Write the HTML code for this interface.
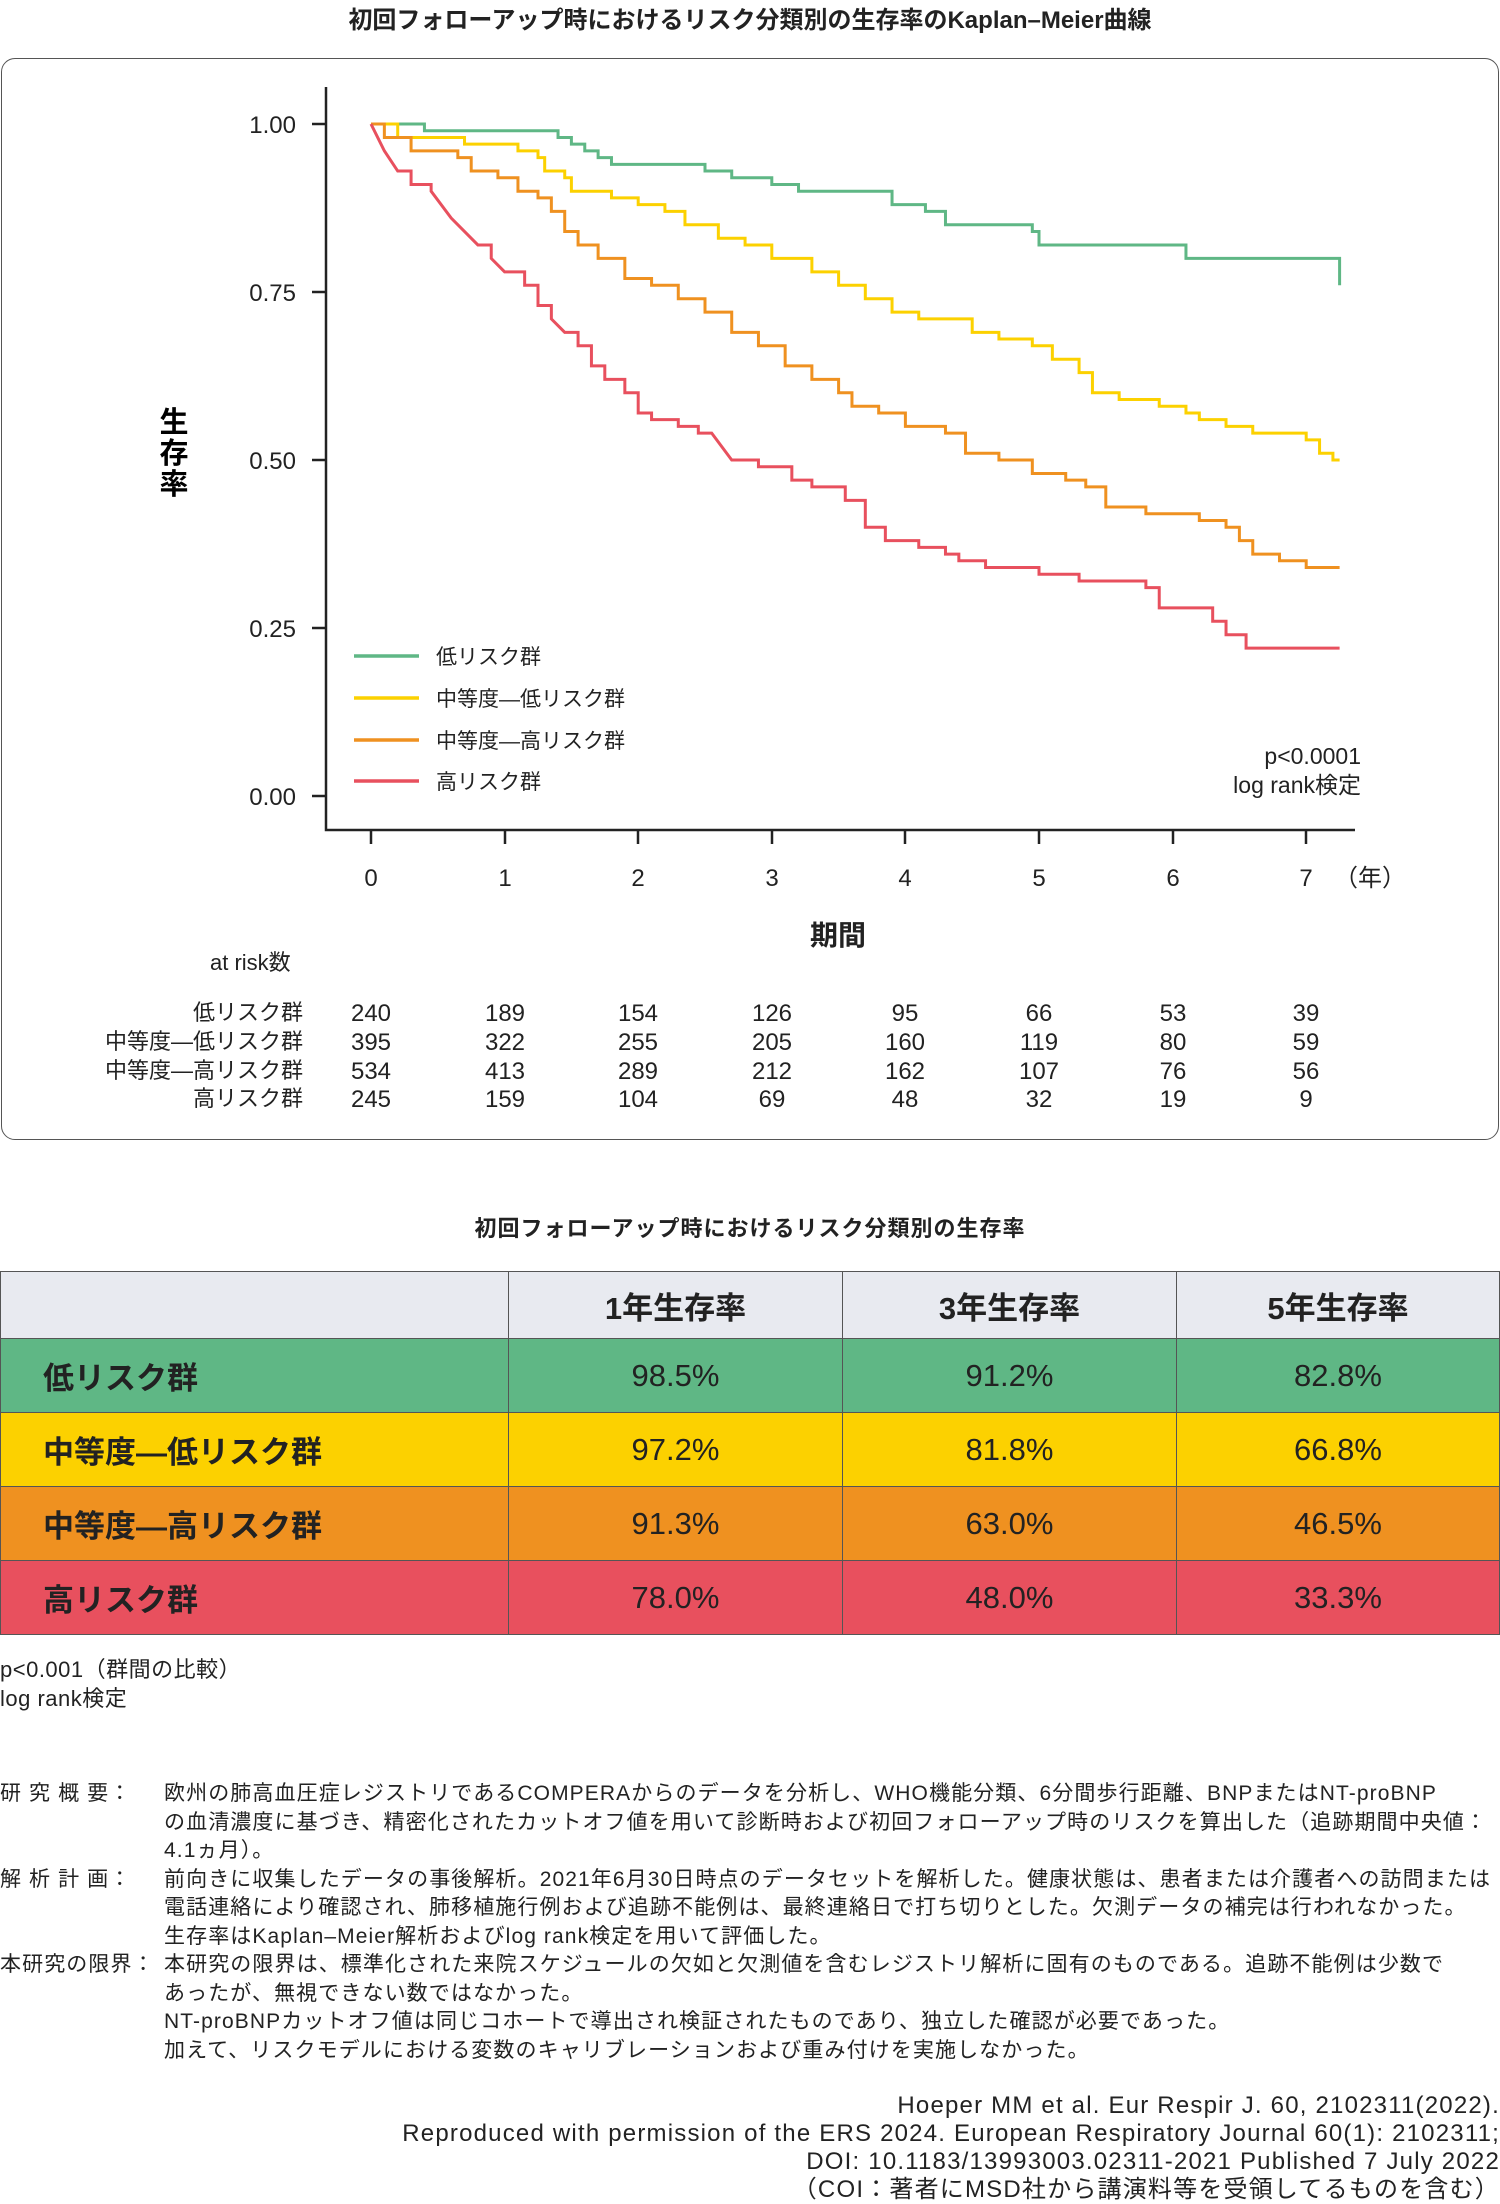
<!DOCTYPE html>
<html><head><meta charset="utf-8"><style>
body{margin:0;width:1500px;height:2202px;background:#fff;position:relative;font-family:"Liberation Sans","Noto Sans CJK JP",sans-serif;color:#222;overflow:hidden}
.a{position:absolute;white-space:nowrap}
.t{font-weight:bold;font-size:24px;left:0;width:1500px;text-align:center}
table{position:absolute;left:0;top:1271px;width:1500px;border-collapse:collapse}
td{border:1.5px solid #555;font-size:31px;text-align:center;padding:0}
td.l{text-align:left;padding-left:42px;font-weight:bold}
th{border:1.5px solid #555;background:#e8eaf0;font-size:31px;height:64px}
.n{font-size:21px;line-height:28.5px;letter-spacing:1.1px}
.n div{position:relative;padding-left:164px}
.n span{position:absolute;left:0}
</style></head><body>
<div class="a t" style="top:0">初回フォローアップ時におけるリスク分類別の生存率のKaplan–Meier曲線</div>
<div class="a" style="left:1px;top:58px;width:1496px;height:1080px;border:1.5px solid #555;border-radius:14px"></div>
<svg class="a" style="left:0;top:0" width="1500" height="1150">
<g stroke="#222" stroke-width="2.5" fill="none">
<path d="M326 87V830H1355"/>
<path d="M326 124h-14M326 292h-14M326 460h-14M326 628h-14M326 796h-14"/>
<path d="M371 830v14M505 830v14M638 830v14M772 830v14M905 830v14M1039 830v14M1173 830v14M1306 830v14"/>
</g>
<g font-size="24" text-anchor="end" fill="#222">
<text x="296" y="133">1.00</text><text x="296" y="301">0.75</text><text x="296" y="469">0.50</text><text x="296" y="637">0.25</text><text x="296" y="805">0.00</text>
</g>
<g font-size="24" text-anchor="middle" fill="#222">
<text x="371" y="886">0</text><text x="505" y="886">1</text><text x="638" y="886">2</text><text x="772" y="886">3</text><text x="905" y="886">4</text><text x="1039" y="886">5</text><text x="1173" y="886">6</text><text x="1306" y="886">7</text>
<text x="1370" y="886">（年）</text>
<text x="838" y="945" font-weight="bold" font-size="28">期間</text>
</g>
<g font-size="29" font-weight="bold" text-anchor="middle"><text x="174" y="432">生</text><text x="174" y="463">存</text><text x="174" y="494">率</text></g>
<g fill="none" stroke-width="3" transform="translate(371,796) scale(133.6,-672)">
<path vector-effect="non-scaling-stroke" stroke="#5fb785" d="M0 1H0.4V0.99H1.4V0.98H1.5V0.97H1.6V0.96H1.7V0.95H1.8V0.94H2.5V0.93H2.7V0.92H3.0V0.91H3.2V0.90H3.9V0.88H4.15V0.87H4.3V0.85H4.95V0.84H5.0V0.82H6.1V0.80H7.25V0.76"/>
<path vector-effect="non-scaling-stroke" stroke="#fcd100" d="M0 1H0.2V0.98H0.7V0.97H1.1V0.96H1.25V0.95H1.3V0.93H1.45V0.92H1.5V0.90H1.8V0.89H2.0V0.88H2.2V0.87H2.35V0.85H2.6V0.83H2.8V0.82H3.0V0.80H3.3V0.78H3.5V0.76H3.7V0.74H3.9V0.72H4.1V0.71H4.5V0.69H4.7V0.68H4.95V0.67H5.1V0.65H5.3V0.63H5.4V0.60H5.6V0.59H5.9V0.58H6.1V0.57H6.2V0.56H6.4V0.55H6.6V0.54H7.0V0.53H7.1V0.51H7.2V0.50H7.25"/>
<path vector-effect="non-scaling-stroke" stroke="#ef9120" d="M0 1H0.1V0.98H0.3V0.96H0.65V0.95H0.75V0.93H0.95V0.92H1.1V0.90H1.25V0.89H1.35V0.87H1.45V0.84H1.55V0.82H1.7V0.80H1.9V0.77H2.1V0.76H2.3V0.74H2.5V0.72H2.7V0.69H2.9V0.67H3.1V0.64H3.3V0.62H3.5V0.60H3.6V0.58H3.8V0.57H4.0V0.55H4.3V0.54H4.45V0.51H4.7V0.50H4.95V0.48H5.2V0.47H5.35V0.46H5.5V0.43H5.8V0.42H6.2V0.41H6.4V0.40H6.5V0.38H6.6V0.36H6.8V0.35H7.0V0.34H7.25"/>
<path vector-effect="non-scaling-stroke" stroke="#e8505e" d="M0 1L0.1 0.96L0.2 0.93H0.3V0.91H0.45V0.90L0.6 0.86L0.8 0.82H0.9V0.80L1.0 0.78H1.15V0.76H1.25V0.73H1.35V0.71L1.45 0.69H1.55V0.67H1.65V0.64H1.75V0.62H1.9V0.60H2.0V0.57H2.1V0.56H2.3V0.55H2.45V0.54H2.55L2.7 0.50H2.9V0.49H3.15V0.47H3.3V0.46H3.55V0.44H3.7V0.40H3.85V0.38H4.1V0.37H4.3V0.36H4.4V0.35H4.6V0.34H5.0V0.33H5.3V0.32H5.8V0.31H5.9V0.28H6.3V0.26H6.4V0.24H6.55V0.22H7.25"/>
</g>
<g stroke-width="3.5"><path d="M354 656h65" stroke="#5fb785"/><path d="M354 698h65" stroke="#fcd100"/><path d="M354 740h65" stroke="#ef9120"/><path d="M354 781h65" stroke="#e8505e"/></g>
<g font-size="21" fill="#222"><text x="436" y="664">低リスク群</text><text x="436" y="706">中等度―低リスク群</text><text x="436" y="748">中等度―高リスク群</text><text x="436" y="789">高リスク群</text></g>
<g font-size="23" text-anchor="end" fill="#222"><text x="1361" y="764">p&lt;0.0001</text><text x="1361" y="793">log rank検定</text></g>
<text x="210" y="970" font-size="22" fill="#222">at risk数</text>
<g font-size="22" fill="#222" text-anchor="end"><text x="303" y="1020">低リスク群</text><text x="303" y="1049">中等度―低リスク群</text><text x="303" y="1078">中等度―高リスク群</text><text x="303" y="1106">高リスク群</text></g>
<g font-size="24" fill="#222" text-anchor="middle">
<text y="1021"><tspan x="371">240</tspan><tspan x="505">189</tspan><tspan x="638">154</tspan><tspan x="772">126</tspan><tspan x="905">95</tspan><tspan x="1039">66</tspan><tspan x="1173">53</tspan><tspan x="1306">39</tspan></text>
<text y="1050"><tspan x="371">395</tspan><tspan x="505">322</tspan><tspan x="638">255</tspan><tspan x="772">205</tspan><tspan x="905">160</tspan><tspan x="1039">119</tspan><tspan x="1173">80</tspan><tspan x="1306">59</tspan></text>
<text y="1079"><tspan x="371">534</tspan><tspan x="505">413</tspan><tspan x="638">289</tspan><tspan x="772">212</tspan><tspan x="905">162</tspan><tspan x="1039">107</tspan><tspan x="1173">76</tspan><tspan x="1306">56</tspan></text>
<text y="1107"><tspan x="371">245</tspan><tspan x="505">159</tspan><tspan x="638">104</tspan><tspan x="772">69</tspan><tspan x="905">48</tspan><tspan x="1039">32</tspan><tspan x="1173">19</tspan><tspan x="1306">9</tspan></text>
</g>
</svg>
<div class="a t" style="top:1211px;font-size:22px;letter-spacing:1px">初回フォローアップ時におけるリスク分類別の生存率</div>
<table>
<tr><th style="width:505px"></th><th style="width:331px">1年生存率</th><th style="width:331px">3年生存率</th><th>5年生存率</th></tr>
<tr style="background:#5fb785;height:74px"><td class="l">低リスク群</td><td>98.5%</td><td>91.2%</td><td>82.8%</td></tr>
<tr style="background:#fcd100;height:74px"><td class="l">中等度―低リスク群</td><td>97.2%</td><td>81.8%</td><td>66.8%</td></tr>
<tr style="background:#ef9120;height:74px"><td class="l">中等度―高リスク群</td><td>91.3%</td><td>63.0%</td><td>46.5%</td></tr>
<tr style="background:#e8505e;height:74px"><td class="l">高リスク群</td><td>78.0%</td><td>48.0%</td><td>33.3%</td></tr>
</table>
<div class="a n" style="left:0;top:1656px;font-size:22px;letter-spacing:0.5px">p&lt;0.001（群間の比較）<br>log rank検定</div>
<div class="a n" style="left:0;top:1780px;width:1500px">
<div><span>研 究 概 要：</span>欧州の肺高血圧症レジストリであるCOMPERAからのデータを分析し、WHO機能分類、6分間歩行距離、BNPまたはNT-proBNP<br>の血清濃度に基づき、精密化されたカットオフ値を用いて診断時および初回フォローアップ時のリスクを算出した（追跡期間中央値：<br>4.1ヵ月）。</div>
<div><span>解 析 計 画：</span>前向きに収集したデータの事後解析。2021年6月30日時点のデータセットを解析した。健康状態は、患者または介護者への訪問または<br>電話連絡により確認され、肺移植施行例および追跡不能例は、最終連絡日で打ち切りとした。欠測データの補完は行われなかった。<br>生存率はKaplan–Meier解析およびlog rank検定を用いて評価した。</div>
<div><span>本研究の限界：</span>本研究の限界は、標準化された来院スケジュールの欠如と欠測値を含むレジストリ解析に固有のものである。追跡不能例は少数で<br>あったが、無視できない数ではなかった。<br>NT-proBNPカットオフ値は同じコホートで導出され検証されたものであり、独立した確認が必要であった。<br>加えて、リスクモデルにおける変数のキャリブレーションおよび重み付けを実施しなかった。</div>
</div>
<div class="a" style="right:0;top:2092px;text-align:right;font-size:24px;line-height:28px;letter-spacing:1.2px">Hoeper MM et al. Eur Respir J. 60, 2102311(2022).<br>Reproduced with permission of the ERS 2024. European Respiratory Journal 60(1): 2102311;<br>DOI: 10.1183/13993003.02311-2021 Published 7 July 2022<br>（COI：著者にMSD社から講演料等を受領してるものを含む）</div>
</body></html>
